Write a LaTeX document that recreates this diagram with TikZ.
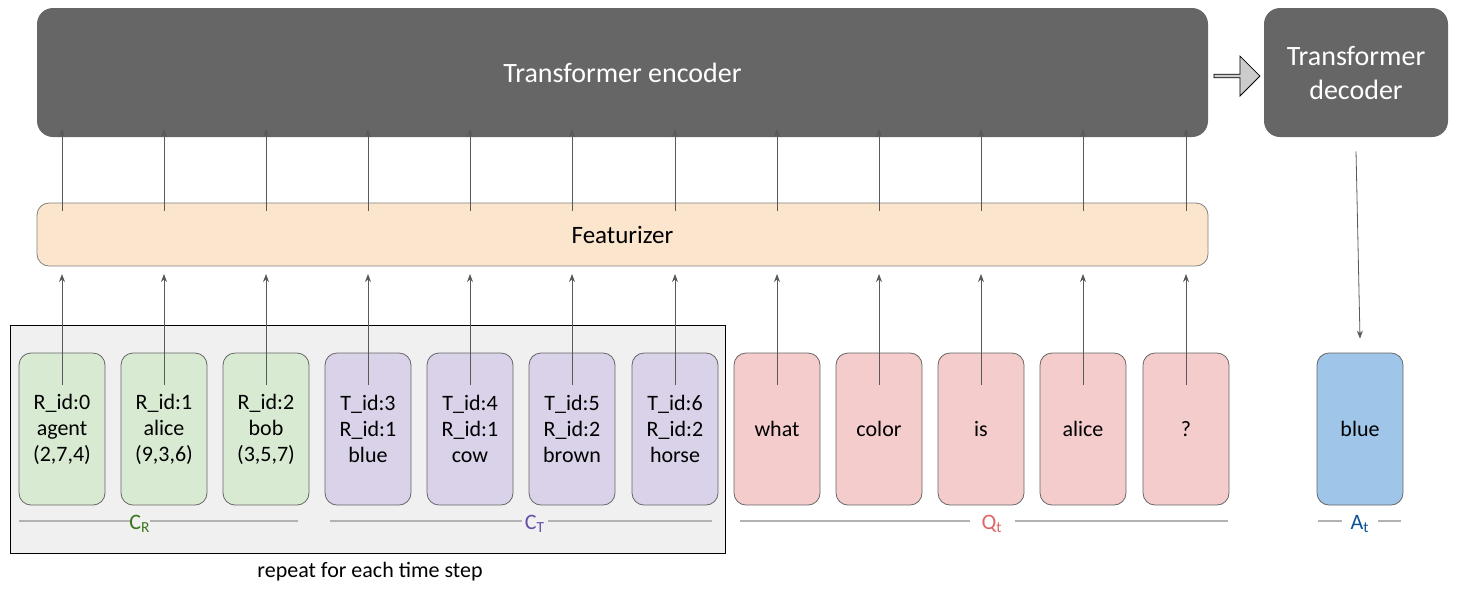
\documentclass[tikz,border=0pt]{standalone}
\usepackage{fontspec}
\setmainfont{Carlito}
\usetikzlibrary{arrows.meta,shapes.arrows}
\definecolor{encgray}{HTML}{666666}
\definecolor{featfill}{HTML}{FCE5CD}
\definecolor{grfill}{HTML}{D9EAD3}
\definecolor{pufill}{HTML}{D9D2E9}
\definecolor{pkfill}{HTML}{F4CCCC}
\definecolor{blfill}{HTML}{9FC5E8}
\definecolor{grtext}{HTML}{38761D}
\definecolor{putext}{HTML}{674EA7}
\definecolor{pktext}{HTML}{E06666}
\definecolor{bltext}{HTML}{0B5394}
\tikzset{
  tok/.style={draw=black!60, rounded corners=6pt, minimum width=43pt, minimum height=76pt, inner sep=0pt, align=center, font=\fontsize{11}{13}\selectfont},
  big/.style={fill=encgray, rounded corners=8pt, text=white, align=center, font=\fontsize{14}{17}\selectfont},
  up/.style={-{Stealth[length=4pt,width=3pt]}, draw=black!65, thin},
  brace/.style={draw=black!30, line width=1.2pt}
}
\begin{document}
\begin{tikzpicture}[x=0.5pt,y=-0.5pt]
\useasboundingbox (0,0) rectangle (1460,596);
% repeat box
\draw[fill=black!6, draw=black] (10,325) rectangle (725,553);
\node (rep) at (370,572) {\fontsize{11}{13}\selectfont repeat for each time step};
% encoder and decoder
\node[big, minimum width=585.5pt, minimum height=64.5pt] (enc) at (622.5,72.5) {Transformer encoder};
\node[big, minimum width=92pt, minimum height=64.5pt] (dec) at (1356,72.5) {Transformer\\decoder};
\node[single arrow, draw=black, fill=black!20, minimum height=23pt, minimum width=20pt, single arrow head extend=2pt, inner sep=0pt] (pass) at (1236,76) {};
% featurizer
\node[draw=black!50, fill=featfill, rounded corners=6pt, minimum width=585.5pt, minimum height=31.5pt, font=\fontsize{12.5}{15}\selectfont] (feat) at (622.5,234.5) {Featurizer};
% tokens
\foreach \i/\x/\c/\t in {1/62/grfill/{R\_id:0\\agent\\(2,7,4)}, 2/164/grfill/{R\_id:1\\alice\\(9,3,6)}, 3/266/grfill/{R\_id:2\\bob\\(3,5,7)},
  4/368/pufill/{T\_id:3\\R\_id:1\\blue}, 5/470/pufill/{T\_id:4\\R\_id:1\\cow}, 6/572/pufill/{T\_id:5\\R\_id:2\\brown}, 7/675/pufill/{T\_id:6\\R\_id:2\\horse},
  8/777/pkfill/{what}, 9/879/pkfill/{color}, 10/981/pkfill/{is}, 11/1083/pkfill/{alice}, 12/1186/pkfill/{?}} {
  \node[tok, fill=\c] (t\i) at (\x,429) {\t};
  \coordinate (fb\i) at (\x,266);
  \coordinate (ft\i) at (\x,203);
  \coordinate (eb\i) at (\x,137);
  \draw[up] ([yshift=-16pt]t\i.north) -- ([yshift=-4pt]fb\i);
  \draw[up] ([yshift=-4pt]ft\i) -- ([yshift=4pt]eb\i);
}
\node[tok, fill=blfill] (ans) at (1360,429) {blue};
\draw[up] ([yshift=-7pt]dec.south) -- ([yshift=7pt]ans.north);
% group labels
\node[text=grtext] (cr) at (140,524) {\fontsize{11}{13}\selectfont C\textsubscript{R}};
\node[text=putext] (ct) at (535,524) {\fontsize{11}{13}\selectfont C\textsubscript{T}};
\node[text=pktext] (qt) at (992,524) {\fontsize{11}{13}\selectfont Q\textsubscript{t}};
\node[text=bltext] (at) at (1360,524) {\fontsize{11}{13}\selectfont A\textsubscript{t}};
\draw[brace] (19,521) -- (130,521) (150,521) -- (298,521);
\draw[brace] (330,521) -- (522,521) (548,521) -- (712,521);
\draw[brace] (740,521) -- (970,521) (1015,521) -- (1228,521);
\draw[brace] (1318,521) -- (1342,521) (1378,521) -- (1401,521);
\end{tikzpicture}
\end{document}
